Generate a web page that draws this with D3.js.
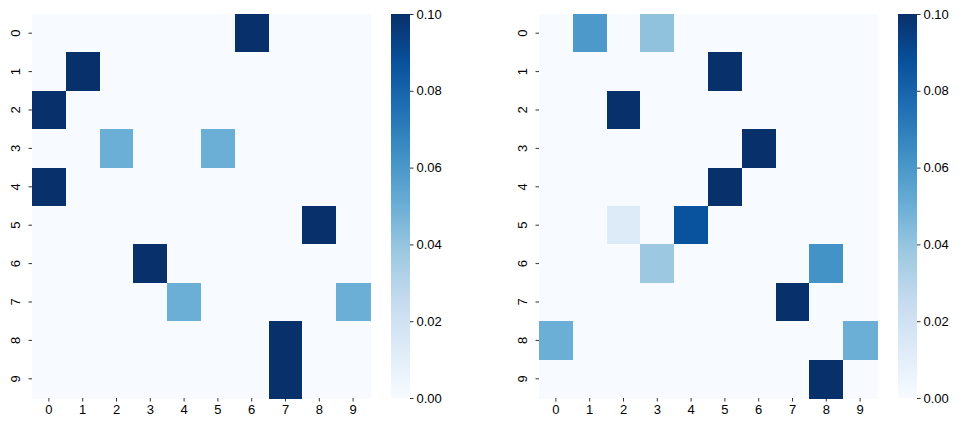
<!DOCTYPE html>
<html>
<head>
<meta charset="utf-8">
<script src="https://cdn.jsdelivr.net/npm/d3@7"></script>
<style>
  html, body { margin: 0; padding: 0; background: #fff; }
  svg { display: block; }
  text { font-family: "Liberation Sans", Arial, sans-serif; fill: #000; }
</style>
</head>
<body>
<svg id="chart" width="964" height="431"></svg>
<script>
// ---- data ----
const rowLabels = ["0","1","2","3","4","5","6","7","8","9"];
const colLabels = ["0","1","2","3","4","5","6","7","8","9"];
const colorbarTicks = [0, 0.02, 0.04, 0.06, 0.08, 0.10];
const vmin = 0, vmax = 0.1;

const leftValues = [
  [0,0,0,0,0,0,0.1,0,0,0],
  [0,0.1,0,0,0,0,0,0,0,0],
  [0.1,0,0,0,0,0,0,0,0,0],
  [0,0,0.05,0,0,0.05,0,0,0,0],
  [0.1,0,0,0,0,0,0,0,0,0],
  [0,0,0,0,0,0,0,0,0.1,0],
  [0,0,0,0.1,0,0,0,0,0,0],
  [0,0,0,0,0.05,0,0,0,0,0.05],
  [0,0,0,0,0,0,0,0.1,0,0],
  [0,0,0,0,0,0,0,0.1,0,0]
];
const rightValues = [
  [0,0.059,0,0.041,0,0,0,0,0,0],
  [0,0,0,0,0,0.1,0,0,0,0],
  [0,0,0.1,0,0,0,0,0,0,0],
  [0,0,0,0,0,0,0.1,0,0,0],
  [0,0,0,0,0,0.1,0,0,0,0],
  [0,0,0.013,0,0.087,0,0,0,0,0],
  [0,0,0,0.038,0,0,0,0,0.062,0],
  [0,0,0,0,0,0,0,0.1,0,0],
  [0.05,0,0,0,0,0,0,0,0,0.05],
  [0,0,0,0,0,0,0,0,0.1,0]
];

// matplotlib "Blues" (linear segments through ColorBrewer stops)
const bluesStops = ["#f7fbff","#deebf7","#c6dbef","#9ecae1","#6baed6","#4292c6","#2171b5","#08519c","#08306b"];
const blues = d3.scaleLinear()
  .domain(d3.range(9).map(i => vmin + (vmax - vmin) * i / 8))
  .range(bluesStops)
  .interpolate(d3.interpolateRgb)
  .clamp(true);

const svg = d3.select("#chart");
const defs = svg.append("defs");
const grad = defs.append("linearGradient").attr("id","cbgrad")
  .attr("x1","0").attr("y1","1").attr("x2","0").attr("y2","0");
bluesStops.forEach((c,i) => grad.append("stop").attr("offset", (i/8*100)+"%").attr("stop-color", c));

const FS = 13;

function drawPanel(values, x0, x1, y0, y1, cbX0, cbX1) {
  const g = svg.append("g");
  const xs = d3.scaleBand().domain(colLabels).range([x0, x1]);
  const ys = d3.scaleBand().domain(rowLabels).range([y0, y1]);

  const cells = [];
  values.forEach((row, r) => row.forEach((v, c) => cells.push({r, c, v})));
  g.append("g").selectAll("rect").data(cells).join("rect")
    .attr("x", d => xs(colLabels[d.c]))
    .attr("y", d => ys(rowLabels[d.r]))
    .attr("width", xs.bandwidth() + 0.5)
    .attr("height", ys.bandwidth() + 0.5)
    .attr("fill", d => blues(d.v))
    .attr("shape-rendering", "crispEdges");

  // x axis
  const xAxis = g.append("g").attr("transform", `translate(0,${y1})`)
    .call(d3.axisBottom(xs).tickSize(3.5).tickPadding(3));
  xAxis.select(".domain").remove();
  xAxis.selectAll("line").attr("stroke", "#000").attr("stroke-width", 0.8);
  xAxis.selectAll("text").attr("font-size", FS).attr("font-family", "Liberation Sans, Arial, sans-serif").attr("fill", "#000");

  // y axis (rotated labels like seaborn)
  const yAxis = g.append("g").attr("transform", `translate(${x0},0)`)
    .call(d3.axisLeft(ys).tickSize(3.5).tickPadding(3));
  yAxis.select(".domain").remove();
  yAxis.selectAll("line").attr("stroke", "#000").attr("stroke-width", 0.8);
  yAxis.selectAll("text")
    .attr("font-size", FS).attr("font-family", "Liberation Sans, Arial, sans-serif").attr("fill", "#000")
    .attr("x", null).attr("dy", null)
    .attr("text-anchor", "middle")
    .attr("transform", "translate(-12.5,0) rotate(-90)")
    .attr("dy", "0em");

  // colorbar
  const cs = d3.scaleLinear().domain([vmin, vmax]).range([y1, y0]);
  g.append("rect").attr("x", cbX0).attr("y", y0).attr("width", cbX1 - cbX0).attr("height", y1 - y0)
    .attr("fill", "url(#cbgrad)");
  const cAxis = g.append("g").attr("transform", `translate(${cbX1},0)`)
    .call(d3.axisRight(cs).tickValues(colorbarTicks).tickFormat(d3.format(".2f")).tickSize(3.5).tickPadding(3));
  cAxis.select(".domain").remove();
  cAxis.selectAll("line").attr("stroke", "#000").attr("stroke-width", 0.8);
  cAxis.selectAll("text").attr("font-size", FS).attr("font-family", "Liberation Sans, Arial, sans-serif").attr("fill", "#000");
}

drawPanel(leftValues, 32, 370, 14, 398, 391, 410);
drawPanel(rightValues, 539, 877, 14, 398, 898, 917);
</script>
</body>
</html>
